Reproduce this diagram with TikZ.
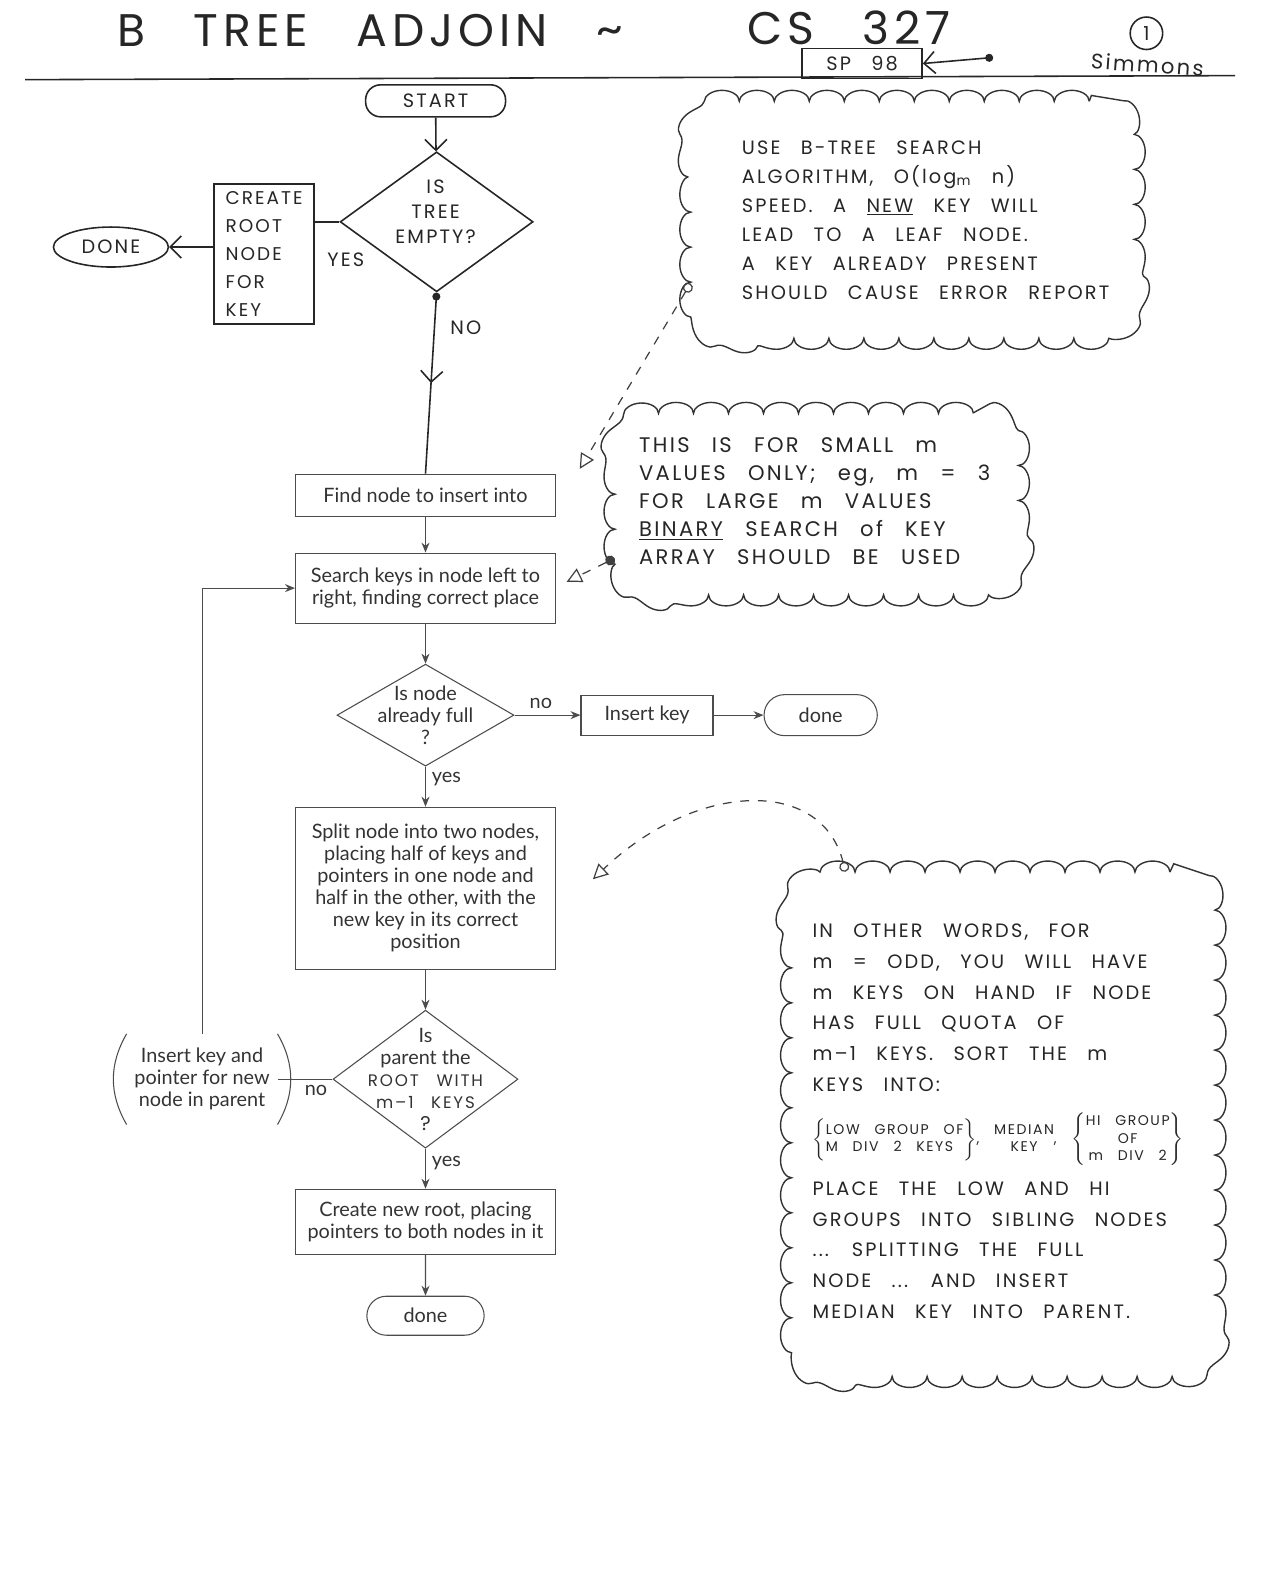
\documentclass[tikz,border=0pt]{standalone}
\usepackage{fontspec}
\setmainfont{Lato}
\newfontfamily\handfont[LetterSpace=11,WordSpace=2.8]{Poppins}
\usepackage{tikz}
\usetikzlibrary{positioning, shapes.geometric, shapes.misc, arrows.meta, decorations.markings, decorations.pathmorphing, calc}

\begin{document}
\begin{tikzpicture}[
        x=0.2017mm, y=-0.2017mm,
        every node/.style={font=\fontsize{11.3}{12.5}\selectfont, text=black!80},
        hand/.style={font=\handfont\fontsize{11}{16.5}\selectfont, text=black!85},
        heading/.style={font=\handfont\fontsize{26}{30}\selectfont, text=black!85},
        sketch/.style={draw=black!85, line width=0.9pt},
        sketcharrow/.style={sketch, -{Straight Barb[length=2.2mm]}},
        process/.style={draw=black!70, semithick, minimum width=52mm, align=center},
        decision/.style={draw=black!70, semithick, diamond, inner sep=0pt},
        terminal/.style={draw=black!70, semithick, rounded rectangle,
                         minimum width=25.8mm, minimum height=7.8mm},
        flow/.style={draw=black!70, semithick, -{Stealth[length=2mm, width=1.6mm]}},
        flowline/.style={draw=black!70, semithick},
        note/.style={rounded corners=9mm,
                     postaction={draw=black!80, line width=0.8pt, sharp corners, decorate,
                                 decoration={bumps, mirror, segment length=14mm, amplitude=2.2mm}}},
        pointer/.style={draw=black!75, line width=0.7pt, dash pattern=on 5pt off 5pt},
        midarrow/.style={decoration={markings,
                         mark=at position 0.5 with {\arrow{Straight Barb[length=2.2mm]}}},
                         postaction={decorate}}
    ]
    \useasboundingbox (0,0) rectangle (1269,1568);

    % --- Heading ---
    \node[heading] (title) at (330,30) {B TREE ADJOIN};
    \node[heading, font=\fontsize{28}{28}\selectfont, inner sep=0pt] (tilde) at (605,36) {\textasciitilde};
    \node[heading] (course) at (842,28) {CS 327};
    \node[hand, circle, sketch, minimum size=6.5mm, inner sep=0pt] (page) at (1137,33) {1};
    \node[hand, sketch, minimum width=24mm, minimum height=6mm, inner sep=0pt] (sp) at (855,63) {SP 98};
    \coordinate (spdot) at (985,57);
    \node[hand, font=\handfont\fontsize{12}{14}\selectfont, rotate=-4] (simmons) at (1138,64) {Simmons};
    \draw[sketch] (25,79) -- (1225,75);
    \draw[sketch, {Circle[length=1.6mm]}-{Straight Barb[length=2.2mm]}] (spdot) -- (sp.east);

    % --- Hand-drawn start ---
    \node[hand, sketch, rounded corners=3mm, minimum width=28mm, minimum height=6.4mm] (start) at (432,100) {START};
    \node[sketch, diamond, minimum width=38.6mm, minimum height=28mm, inner sep=0pt] (empty) at (433,220) {};
    \node[hand, align=center, font=\handfont\fontsize{11}{14.5}\selectfont] (emptytext) at (432,210) {IS\\TREE\\EMPTY?};
    \node[hand, sketch, align=left, minimum width=20mm, minimum height=28mm, inner sep=1mm,
          font=\handfont\fontsize{10.5}{16}\selectfont] (root) at (262,252) {CREATE\\ROOT\\NODE\\FOR\\KEY};
    \node[hand, sketch, ellipse, minimum width=23mm, minimum height=8mm, inner sep=0pt] (doneroot) at (110,245) {DONE};

    \draw[sketcharrow] (start) -- (empty);
    \draw[sketch] (empty.west) -- (empty.west -| root.east);
    \draw[sketcharrow] (root.west |- doneroot) -- (doneroot);
    \node[hand] (yesroot) at (343,258) {YES};
    \node[hand] (noroot) at (462,325) {NO};

    % --- Printed flowchart ---
    \node[process, minimum height=8.4mm] (find) at (422,491) {Find node to insert into};
    \node[process, minimum height=14mm, below=7.2mm of find] (search) {Search keys in node left to\\right, finding correct place};
    \node[decision, minimum width=35.4mm, minimum height=20.4mm, below=8mm of search] (full) {};
    \node[align=center] (fulltext) at (full.center) {Is node\\already full\\?};
    \node[process, minimum height=32.4mm, below=8mm of full] (split) {Split node into two nodes,\\placing half of keys and\\pointers in one node and\\half in the other, with the\\new key in its correct\\position};
    \node[decision, minimum width=37mm, minimum height=27.6mm, below=8mm of split] (parent) {};
    \node[align=center] (parenttext) at (parent.center) {Is\\parent the\\{\handfont\fontsize{9.5}{12}\selectfont ROOT WITH}\\{\handfont\fontsize{9.5}{12}\selectfont m–1 KEYS}\\{\handfont ?}};
    \node[process, minimum height=13mm, below=8mm of parent] (create) {Create new root, placing\\pointers to both nodes in it};
    \node[terminal, below=8.2mm of create] (done) {done};
    \node[process, minimum width=26.4mm, minimum height=8mm, right=13.2mm of full] (insert) {Insert key};
    \node[terminal, minimum width=25mm, minimum height=8.2mm, right=10mm of insert] (donefull) {done};
    \node[align=center, minimum height=18mm, inner xsep=1.5mm, left=11mm of parent] (ins) {Insert key and\\pointer for new\\node in parent};
    \draw[flowline] (ins.north west) to[bend right=30] (ins.south west);
    \draw[flowline] (ins.north east) to[bend left=30] (ins.south east);

    \draw[sketch, {Circle[length=1.6mm]}-, midarrow] (empty.south) -- (find.north);
    \draw[flow] (find) -- (search);
    \draw[flow] (search) -- (full);
    \draw[flow] (full) -- node[right, pos=0.3] {yes} (split);
    \draw[flow] (full) -- node[above, pos=0.4] {no} (insert);
    \draw[flow] (insert) -- (donefull);
    \draw[flow] (split) -- (parent);
    \draw[flow] (parent) -- node[right, pos=0.35] {yes} (create);
    \draw[flow] (create) -- (done);
    \draw[flowline] (parent) -- node[below, pos=0.3] {no} (ins);
    \draw[flow] (ins.north) |- (search.west);

    % --- Notes ---
    \node[note, minimum width=88.7mm, minimum height=47.4mm] (notesearch) at (905,218) {};
    \node[hand, align=left] (notesearchtext) at (918,218) {%
        USE B-TREE SEARCH\\
        ALGORITHM, O(log\textsubscript{m} n)\\
        SPEED. A \underline{NEW} KEY WILL\\
        LEAD TO A LEAF NODE.\\
        A KEY ALREADY PRESENT\\
        SHOULD CAUSE ERROR REPORT};
    \node[note, minimum width=80.7mm, minimum height=36.3mm] (notebinary) at (810,500) {};
    \node[hand, align=left, font=\handfont\fontsize{12}{16}\selectfont] (notebinarytext) at (808,497) {%
        THIS IS FOR SMALL m\\
        VALUES ONLY; eg, m = 3\\
        FOR LARGE m VALUES\\
        \underline{BINARY} SEARCH of KEY\\
        ARRAY SHOULD BE USED};
    \node[note, minimum width=84.7mm, minimum height=100.9mm] (notesplit) at (995,1115) {};
    \node[hand, align=left, font=\handfont\fontsize{11}{17.5}\selectfont] (notesplittext) at (990,1112) {%
        IN OTHER WORDS, FOR\\
        m = ODD, YOU WILL HAVE\\
        m KEYS ON HAND IF NODE\\
        HAS FULL QUOTA OF\\
        m–1 KEYS. SORT THE m\\
        KEYS INTO:\\[12pt]
        {\fontsize{8}{10}\selectfont
        $\left\{\begin{tabular}{@{}l@{}}LOW GROUP OF\\ M DIV 2 KEYS\end{tabular}\right\}$,
        \begin{tabular}{@{}c@{}}MEDIAN\\ KEY\end{tabular},
        $\left\{\begin{tabular}{@{}c@{}}HI GROUP\\ OF\\ m DIV 2\end{tabular}\right\}$}\\[8pt]
        PLACE THE LOW AND HI\\
        GROUPS INTO SIBLING NODES\\
        ... SPLITTING THE FULL\\
        NODE ... AND INSERT\\
        MEDIAN KEY INTO PARENT.};

    % --- Note pointers ---
    \coordinate (findtip) at (575,465);
    \coordinate (searchtip) at (562,577);
    \coordinate (splittip) at (588,872);
    \draw[pointer, {Circle[open, length=2mm]}-{Triangle[open, length=3mm, width=3mm]}] (notesearch.196) -- (findtip);
    \draw[pointer, {Circle[length=2mm]}-{Triangle[open, length=3mm, width=3mm]}] (notebinary.195) -- (searchtip);
    \draw[pointer, {Circle[open, length=2mm]}-{Triangle[open, length=3mm, width=3mm]}] (notesplit.122)
        .. controls (815,770) and (690,775) .. (splittip);

\end{tikzpicture}
\end{document}
